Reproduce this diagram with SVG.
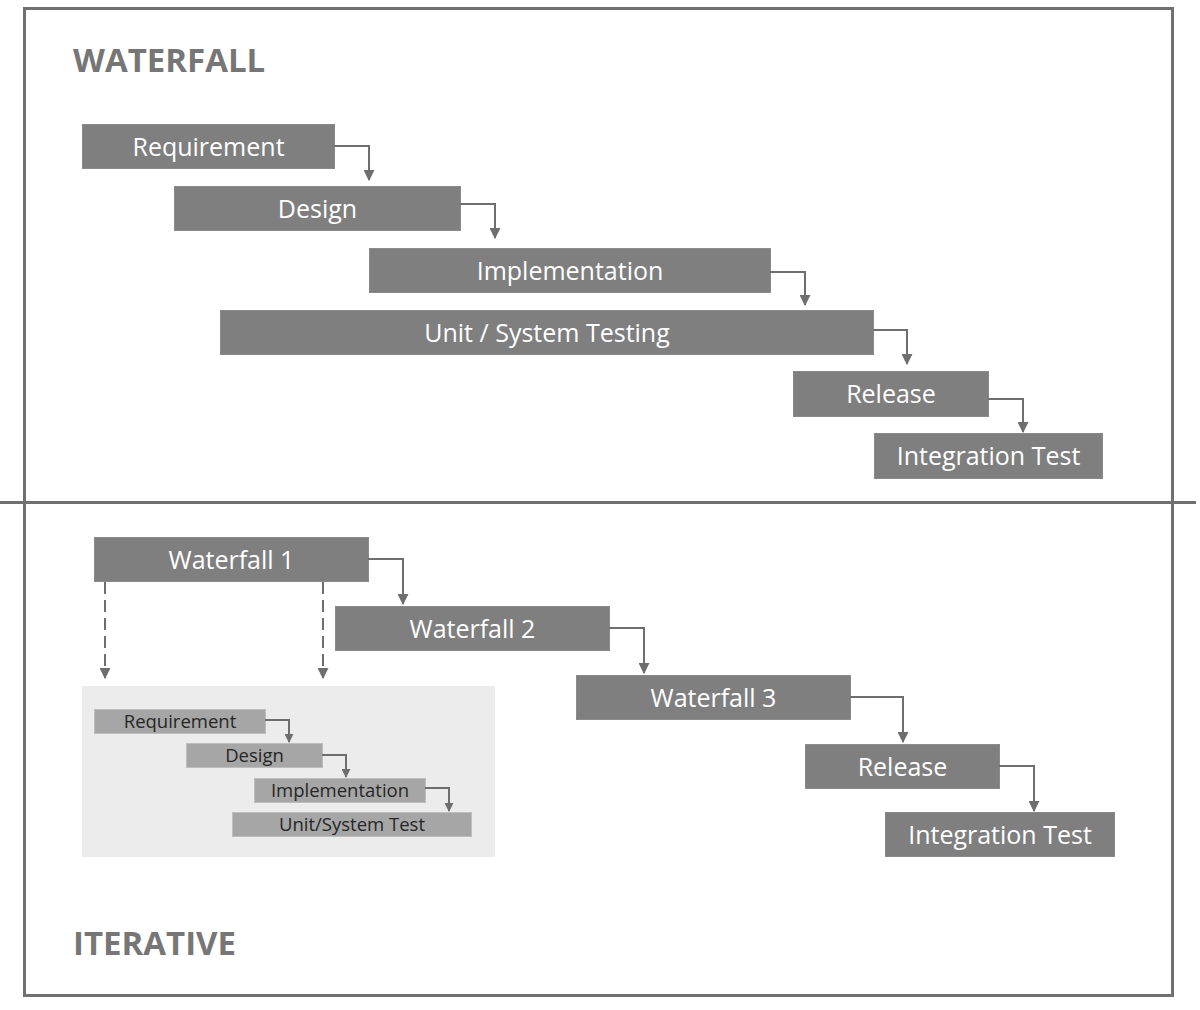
<svg xmlns="http://www.w3.org/2000/svg" width="1200" height="1010" viewBox="0 0 1200 1010">
<style>
.frame{fill:none;stroke:#707070;stroke-width:3}
.title{font-family:"Open Sans","Noto Sans",sans-serif;font-weight:bold;font-size:33px;fill:#767676}
.box{fill:#7f7f7f;stroke:#8a8a8a;stroke-width:1}
.lbl{font-family:"Open Sans","Noto Sans",sans-serif;font-size:25px;fill:#ffffff;text-anchor:middle}
.sbox{fill:#a6a6a6;stroke:#bdbdbd;stroke-width:1}
.slbl{font-family:"Open Sans","Noto Sans",sans-serif;font-size:18.5px;fill:#262626;text-anchor:middle}
.conn{fill:none;stroke:#6e6e6e;stroke-width:2}
.dash{fill:none;stroke:#6e6e6e;stroke-width:2;stroke-dasharray:12,6}
</style>
<defs>
<marker id="arr" viewBox="0 0 10 10" refX="9" refY="5" markerWidth="11" markerHeight="11" markerUnits="userSpaceOnUse" orient="auto">
<path d="M0,0 L10,5 L0,10 z" fill="#6e6e6e"/>
</marker>
<marker id="sarr" viewBox="0 0 10 10" refX="9" refY="5" markerWidth="9" markerHeight="9" markerUnits="userSpaceOnUse" orient="auto">
<path d="M0,0 L10,5 L0,10 z" fill="#6e6e6e"/>
</marker>
</defs>
<rect x="0" y="0" width="1200" height="1010" fill="#ffffff"/>
<g id="frame">
<rect class="frame" x="24.5" y="8.5" width="1148" height="987"/>
<line class="frame" x1="0" y1="502.5" x2="1196" y2="502.5"/>
</g>
<text class="title" x="73" y="72">WATERFALL</text>
<text class="title" x="73" y="955">ITERATIVE</text>
<g id="inner-panel"><rect x="82" y="686" width="413" height="171" fill="#ececec"/></g>

<g id="wf-requirement"><rect class="box" x="82.5" y="124.5" width="252" height="44"/><text class="lbl" x="208.5" y="156">Requirement</text></g>
<g id="wf-design"><rect class="box" x="174.5" y="186.5" width="286" height="44"/><text class="lbl" x="317.5" y="218">Design</text></g>
<g id="wf-implementation"><rect class="box" x="369.5" y="248.5" width="401" height="44"/><text class="lbl" x="570" y="280">Implementation</text></g>
<g id="wf-testing"><rect class="box" x="220.5" y="310.5" width="653" height="44"/><text class="lbl" x="547" y="342">Unit / System Testing</text></g>
<g id="wf-release"><rect class="box" x="793.5" y="371.5" width="195" height="45"/><text class="lbl" x="891" y="403">Release</text></g>
<g id="wf-integration"><rect class="box" x="874.5" y="433.5" width="228" height="45"/><text class="lbl" x="988.5" y="465">Integration Test</text></g>

<g id="it-waterfall1"><rect class="box" x="94.5" y="537.5" width="274" height="44"/><text class="lbl" x="231.5" y="569">Waterfall 1</text></g>
<g id="it-waterfall2"><rect class="box" x="335.5" y="606.5" width="274" height="44"/><text class="lbl" x="472.5" y="638">Waterfall 2</text></g>
<g id="it-waterfall3"><rect class="box" x="576.5" y="675.5" width="274" height="44"/><text class="lbl" x="713.5" y="707">Waterfall 3</text></g>
<g id="it-release"><rect class="box" x="805.5" y="744.5" width="194" height="44"/><text class="lbl" x="902.5" y="776">Release</text></g>
<g id="it-integration"><rect class="box" x="885.5" y="812.5" width="229" height="44"/><text class="lbl" x="1000" y="844">Integration Test</text></g>

<g id="sub-requirement"><rect class="sbox" x="94.5" y="709.5" width="171" height="24"/><text class="slbl" x="180" y="728">Requirement</text></g>
<g id="sub-design"><rect class="sbox" x="186.5" y="743.5" width="136" height="24"/><text class="slbl" x="254.5" y="762">Design</text></g>
<g id="sub-implementation"><rect class="sbox" x="254.5" y="778.5" width="171" height="24"/><text class="slbl" x="340" y="797">Implementation</text></g>
<g id="sub-test"><rect class="sbox" x="232.5" y="812.5" width="239" height="24"/><text class="slbl" x="352" y="831">Unit/System Test</text></g>

<g id="connectors">
<path class="conn" d="M334,146 H369 V180" marker-end="url(#arr)"/>
<path class="conn" d="M460,204 H495 V238" marker-end="url(#arr)"/>
<path class="conn" d="M770,272 H805 V305" marker-end="url(#arr)"/>
<path class="conn" d="M873,330 H907 V364" marker-end="url(#arr)"/>
<path class="conn" d="M988,399 H1023 V432" marker-end="url(#arr)"/>

<path class="conn" d="M368,559 H403 V604" marker-end="url(#arr)"/>
<path class="conn" d="M609,628 H644 V673" marker-end="url(#arr)"/>
<path class="conn" d="M850,697 H903 V742" marker-end="url(#arr)"/>
<path class="conn" d="M999,766 H1034 V811" marker-end="url(#arr)"/>

<path class="dash" d="M105,582 V678" marker-end="url(#arr)"/>
<path class="dash" d="M323,582 V678" marker-end="url(#arr)"/>

<path class="conn" d="M265,720 H289 V742" marker-end="url(#sarr)"/>
<path class="conn" d="M322,755 H346 V777" marker-end="url(#sarr)"/>
<path class="conn" d="M425,788 H449 V811" marker-end="url(#sarr)"/>
</g>
</svg>
